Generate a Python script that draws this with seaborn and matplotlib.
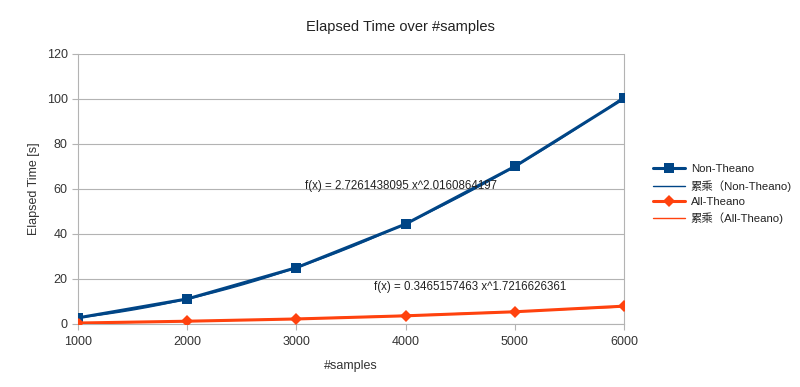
import numpy as np
import pandas as pd
import matplotlib
matplotlib.use("Agg")
import matplotlib.pyplot as plt
import seaborn as sns

samples = [1000, 2000, 3000, 4000, 5000, 6000]
non_theano = [2.7, 11.1, 25.0, 44.4, 70.0, 100.3]
all_theano = [0.4, 1.2, 2.2, 3.6, 5.4, 7.9]
# power trendline coefficients shown in the chart: f(x) = a * x^b, x = point index
non_a, non_b = 2.7261438095, 2.0160864197
all_a, all_b = 0.3465157463, 1.7216626361

title = "Elapsed Time over #samples"
xlabel = "#samples"
ylabel = "Elapsed Time [s]"
yticks = [0, 20, 40, 60, 80, 100, 120]

BLUE = "#004586"
ORANGE = "#ff420e"
GRID = "#b3b3b3"

sns.set_theme(style="white")
plt.rcParams['font.family'] = ['Liberation Sans', 'Noto Sans CJK SC', 'DejaVu Sans']

fig = plt.figure(figsize=(8, 3.87), dpi=100)
ax = fig.add_axes([0.0975, 0.163, 0.6825, 0.6975])

df = pd.DataFrame({"samples": samples, "Non-Theano": non_theano, "All-Theano": all_theano})

# trendlines
idx = np.linspace(1, len(samples), 200)
xs = np.interp(idx, np.arange(1, len(samples) + 1), samples)
tr = pd.DataFrame({"x": xs, "non": non_a * idx ** non_b, "all": all_a * idx ** all_b})

sns.lineplot(data=df, x="samples", y="Non-Theano", ax=ax, color=BLUE, lw=2.2,
             marker="s", markersize=7, markeredgewidth=0, label="Non-Theano", zorder=4)
sns.lineplot(data=tr, x="x", y="non", ax=ax, color=BLUE, lw=1.0,
             label="累乘（Non-Theano)", zorder=5)
sns.lineplot(data=df, x="samples", y="All-Theano", ax=ax, color=ORANGE, lw=2.2,
             marker="D", markersize=6, markeredgewidth=0, label="All-Theano", zorder=4)
sns.lineplot(data=tr, x="x", y="all", ax=ax, color=ORANGE, lw=1.0,
             label="累乘（All-Theano)", zorder=5)

ax.set_xlim(samples[0], samples[-1])
ax.set_ylim(0, 120)
ax.set_yticks(yticks)
ax.set_xticks(samples)
ax.yaxis.grid(True, color=GRID, lw=0.8)
ax.xaxis.grid(False)
for s in ["left", "right", "bottom"]:
    ax.spines[s].set_color(GRID)
    ax.spines[s].set_linewidth(0.8)
ax.spines["top"].set_visible(False)
ax.tick_params(axis="both", colors="#333333", labelsize=9, length=4, width=0.8,
               direction="out", color=GRID, left=True, bottom=True)
ax.tick_params(axis="x", pad=5)

ax.set_xlabel(xlabel, fontsize=9, color="#333333", labelpad=8)
ax.set_ylabel(ylabel, fontsize=9, color="#333333", labelpad=5)
fig.text(0.5, 0.93, title, ha="center", va="center", fontsize=10.5, color="#222222")

ax.text(0.592, 0.511, "f(x) = 2.7261438095 x^2.0160864197", transform=ax.transAxes,
        fontsize=8.3, color="#222222", ha="center", va="center", zorder=6)
ax.text(0.718, 0.137, "f(x) = 0.3465157463 x^1.7216626361", transform=ax.transAxes,
        fontsize=8.3, color="#222222", ha="center", va="center", zorder=6)

leg = ax.legend(loc="center left", bbox_to_anchor=(1.035, 0.48), frameon=False,
                fontsize=8.2, handlelength=2.8, labelspacing=0.48, handletextpad=0.5)
for t in leg.get_texts():
    t.set_color("#222222")

fig.savefig("out.png", dpi=100, facecolor="white")
